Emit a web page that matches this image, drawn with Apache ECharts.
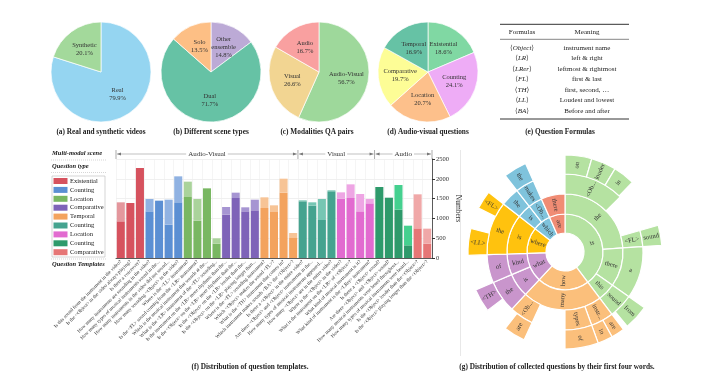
<!DOCTYPE html>
<html><head><meta charset="utf-8">
<script src="https://cdn.jsdelivr.net/npm/echarts@6/dist/echarts.min.js"></script>
<style>html,body{margin:0;padding:0;background:#fff}#c{width:720px;height:374px}</style>
</head><body><div id="c"></div>
<script>
const SERIF = "'Liberation Serif','Times New Roman',serif";

// ---------- pies ----------
const pieANames = ['Real', 'Synthetic'];
const pieAValues = [79.9, 20.1];
const pieBNames = ['Other\nensemble', 'Dual', 'Solo'];
const pieBValues = [14.8, 71.7, 13.5];
const pieCNames = ['Audio-Visual', 'Visual', 'Audio'];
const pieCValues = [56.7, 26.6, 16.7];
const pieDNames = ['Existential', 'Counting', 'Location', 'Comparative', 'Temporal'];
const pieDValues = [18.6, 24.1, 20.7, 19.7, 16.9];

// ---------- table ----------
const formulaNames = ['Object', 'LR', 'LRer', 'FL', 'TH', 'LL', 'BA'];
const formulaMeanings = ['instrument name', 'left & right', 'leftmost & rightmost', 'first & last', 'first, second, \u2026', 'Loudest and lowest', 'Before and after'];

// ---------- bar chart ----------
const sceneNames = ['Audio-Visual', 'Visual', 'Audio'];
const sceneTemplateCounts = [19, 8, 6];
const questionTypes = ['Existential', 'Counting', 'Location', 'Comparative', 'Temporal', 'Counting', 'Location', 'Counting', 'Comparative'];
const templateType = [0,0,0, 1,1,1,1, 2,2,2,2, 3,3,3,3, 4,4,4,4, 5,5,5,5, 6,6,6,6, 7,7,7,7, 8,8];
const templateLabels = [
'Is this sound from the instrument in the video?',
'Is the <Object> in the video always playing?',
'Is there a voiceover?',
'How many instruments are sounding in the video?',
'How many types of musical instruments sound in the...',
'How many instruments in the video did not sound...',
'How many sounding <Object> in the video?',
'Where is the <LL> instrument?',
'Is the <FL> sound coming from the <LR> instrument?',
'Which is the musical instrument that sounds at the...',
'What is the <LR> instrument of the <FL> sounding...',
'Is the instrument on the <LR> more rhythmic than the...',
'Is the <Object> on the <LR> more rhythmic than the...',
'Is the <Object> on the <LR> louder than the...',
'Is the <Object> on the <LR> playing longer than...',
'Where is the <FL> sounding instrument?',
'Which <Object> makes the sound <FL>?',
'What is the <TH> instrument that comes in?',
'Which instrument makes sounds <BA> the <Object>?',
'Is there a <Object> in the entire video?',
'Are there <Object> and <Object> instruments in the...',
'How many types of musical instruments appeared...',
'How many <Object> are in the entire video?',
'Where is the <Object> in the video?',
'What is the instrument on the <LR> of <Object>?',
'What kind of musical instrument is it?',
'What kind of instrument is the <LRer> instrument?',
'Is there a <Object> sound?',
'Are there <Object> and <Object> sound?',
'How many musical instruments were heard throughout...',
'How many types of musical instruments were heard...',
'Is the <Object> louder than the <Object>?',
'Is the <Object> playing longer than the <Object>?'
];
const solidCounts = [926,1389,2273, 1178,1448,842,1406, 1540,943,1759,362, 1094,1515,1178,1204, 1263,1162,1650,505, 1431,1322,960,1684, 1498,1515,1178,1380, 1793,1523,1220,320, 749,362];
const totalCounts = [1406,1389,2273, 1490,1448,1473,2062, 1928,1490,1759,497, 1288,1650,1280,1473, 1532,1330,2003,631, 1456,1406,1490,1709, 1658,1860,1616,1490, 1793,1523,1843,816, 1608,741];
const yMin = 0, yMax = 2500, yStep = 500;

// ---------- sunburst: [word, share(deg), children]; null = empty gap ----------
const sunburstTree = [
  ['is', 143, [
    ['the', 86, [
      ['<Ob...', 45, [['on', 16], ['louder', 15], ['in', 13]]],
      [null, 29],
      ['<FL>', 12, [['sound', 12]]]
    ]],
    ['there', 39, [['a', 39]]],
    ['this', 18, [['sound', 18, [['from', 15]]]]]
  ]],
  ['how', 80, [['many', 80, [
    ['instr...', 17, [['are', 8], ['in', 9]]],
    ['types', 20, [['of', 20]]],
    [null, 25],
    ['<Ob...', 18, [['are', 13]]]
  ]]]],
  ['what', 45, [
    ['is', 24, [['the', 24, [[null, 10], ['<TH>', 14]]]]],
    ['kind', 21, [['of', 21]]]
  ]],
  ['where', 40, [['is', 40, [['the', 40, [['<LL>', 16], [null, 13], ['<FL>', 11]]]]]]],
  ['which', 28, [
    ['is', 14, [['the', 14]]],
    ['<Ob...', 14, [['makes', 14, [['the', 14]]]]]
  ]],
  ['are', 24, [['there', 24]]]
];

// ---------- styles ----------
const pieAColors = ['#95d5f1', '#a3d99b'];
const pieBColors = ['#bcaad6', '#66c2a5', '#fdbf85'];
const pieCColors = ['#9ed89b', '#f2d592', '#f9a0a0'];
const pieDColors = ['#80d8a3', '#eeacf6', '#fdc08b', '#fdfd96', '#66c2a5'];
const typeDark = ['#d6525e', '#5b8fd3', '#79b762', '#7e63b8', '#f3a35e', '#45a38f', '#e26bd0', '#2e9a6b', '#e67676'];
const typeLight = ['#e4979d', '#90b2e2', '#aad39b', '#a695d2', '#f7c496', '#76c6b3', '#eea5e4', '#45d08f', '#f0a8a8'];
const sunColors = {is: '#b5e2a1', how: '#fbbf7b', what: '#c995cc', where: '#ffc20e', which: '#7fc3dc', are: '#f08c74'};

function pieSeries(names, values, colors, cx) {
  return {
    type: 'pie', center: [cx, 72], radius: [0, 50], startAngle: 90, clockwise: true, silent: true,
    itemStyle: {borderColor: '#fff', borderWidth: 0.7},
    label: {position: 'inside', fontFamily: SERIF, fontSize: 6.5, lineHeight: 8, color: '#333',
      formatter: p => p.name + '\n' + p.value.toFixed(1) + '%'},
    labelLine: {show: false},
    data: names.map((n, i) => ({name: n, value: values[i], itemStyle: {color: colors[i]}}))
  };
}

function buildNode(n, color) {
  const [name, value, kids] = n;
  if (name === null) {
    return {name: '', value, itemStyle: {color: 'rgba(0,0,0,0)', borderWidth: 0}, label: {show: false}};
  }
  const node = {name, value, itemStyle: {color}};
  if (kids) node.children = kids.map(k => buildNode(k, color));
  return node;
}
const sunData = sunburstTree.map(n => buildNode(n, sunColors[n[0]]));

const chart = echarts.init(document.getElementById('c'), null, {renderer: 'canvas'});
chart.setOption({
  animation: false,
  backgroundColor: '#fff',
  grid: {left: 116, right: 288, top: 159, bottom: 116},
  xAxis: {
    type: 'category', data: templateLabels,
    axisLine: {lineStyle: {color: '#333', width: 0.8}},
    axisTick: {lineStyle: {color: '#333'}, length: 3},
    axisLabel: {interval: 0, rotate: 45, fontSize: 5, fontFamily: SERIF, color: '#333', margin: 3},
    splitLine: {show: true, lineStyle: {color: '#eeeeee', width: 0.6}}
  },
  yAxis: {
    type: 'value', position: 'right', min: yMin, max: yMax, interval: yStep,
    axisLine: {show: true, lineStyle: {color: '#333', width: 0.8}},
    axisTick: {show: true, length: 3, lineStyle: {color: '#333'}},
    axisLabel: {fontSize: 6.5, fontFamily: SERIF, color: '#333', margin: 4, formatter: v => String(v)},
    splitLine: {lineStyle: {color: '#e6e6e6', width: 0.6}},
    name: 'Numbers', nameLocation: 'middle', nameRotate: -90, nameGap: 22,
    nameTextStyle: {fontSize: 7.5, fontFamily: SERIF, color: '#333'}
  },
  series: [
    pieSeries(pieANames, pieAValues, pieAColors, 101),
    pieSeries(pieBNames, pieBValues, pieBColors, 211),
    pieSeries(pieCNames, pieCValues, pieCColors, 319),
    pieSeries(pieDNames, pieDValues, pieDColors, 428),
    {
      type: 'bar', stack: 'q', barCategoryGap: '16%', silent: true,
      data: solidCounts.map((v, i) => ({value: v, itemStyle: {color: typeDark[templateType[i]]}}))
    },
    {
      type: 'bar', stack: 'q', silent: true,
      data: totalCounts.map((t, i) => ({value: t - solidCounts[i], itemStyle: {color: typeLight[templateType[i]]}}))
    },
    {
      type: 'sunburst', center: [565, 252], radius: [19, 97], sort: null, startAngle: 90, clockwise: true,
      nodeClick: false, silent: true,
      itemStyle: {borderColor: '#fff', borderWidth: 1.2},
      label: {rotate: 'radial', fontSize: 6.5, fontFamily: SERIF, color: '#333'},
      levels: [{}, {r0: 19, r: 38}, {r0: 38, r: 58}, {r0: 58, r: 78}, {r0: 78, r: 97}],
      data: sunData
    }
  ]
});

// ---------- graphic (captions, table, legend, scene brackets) ----------
const G = [];
function txt(x, y, text, font, opts) {
  G.push(Object.assign({type: 'text', x, y, silent: true,
    style: Object.assign({text, font, fill: '#222', align: 'center', verticalAlign: 'middle'}, (opts || {}))}));
}
function line(x1, y1, x2, y2, stroke, w, dash) {
  G.push({type: 'line', silent: true, shape: {x1, y1, x2, y2},
    style: {stroke, lineWidth: w, lineDash: dash || null}});
}
const capFont = 'bold 7.3px ' + SERIF;
txt(101, 132, '(a) Real and synthetic videos', capFont);
txt(211, 132, '(b) Different scene types', capFont);
txt(317, 132, '(c) Modalities QA pairs', capFont);
txt(428, 132, '(d) Audio-visual questions', capFont);
txt(560, 132, '(e) Question Formulas', capFont);
txt(250, 367, '(f) Distribution of question templates.', capFont);
txt(557, 367, '(g) Distribution of collected questions by their first four words.', capFont);

// table
line(500, 24.3, 629, 24.3, '#333', 1);
line(500, 39.3, 629, 39.3, '#333', 0.6);
line(500, 119, 629, 119, '#333', 1);
const tFont = '7px ' + SERIF;
txt(522, 32, 'Formulas', tFont);
txt(587, 32, 'Meaning', tFont);
formulaNames.forEach((f, i) => {
  const y = 48 + i * 10.5;
  G.push({type: 'text', x: 522, y, silent: true, style: {
    text: '{p|\u27e8}{i|' + f + '}{p|\u27e9}', align: 'center', verticalAlign: 'middle', fill: '#222',
    rich: {p: {fontSize: 7, fontFamily: "'DejaVu Serif'," + SERIF, fill: '#444', fontWeight: 'lighter'},
           i: {fontSize: 7, fontFamily: SERIF, fontStyle: 'italic', fill: '#222'}}}});
  txt(587, y, formulaMeanings[i], tFont);
});

// bar chart side labels + legend
const sideFont = 'italic bold 6.5px ' + SERIF;
txt(52, 153, 'Multi-modal scene', sideFont, {align: 'left'});
txt(52, 166, 'Question type', sideFont, {align: 'left'});
txt(52, 264, 'Question Templates', sideFont, {align: 'left'});
line(51, 160, 106, 160, '#bbb', 0.6, [1, 1]);
line(51, 172.5, 106, 172.5, '#bbb', 0.6, [1, 1]);
line(51, 259, 106, 259, '#bbb', 0.6, [1, 1]);
G.push({type: 'rect', silent: true, shape: {x: 52, y: 176, width: 53, height: 81},
  style: {fill: '#fff', stroke: '#bbb', lineWidth: 0.6}});
questionTypes.forEach((t, i) => {
  const y = 181 + i * 8.9;
  G.push({type: 'rect', silent: true, shape: {x: 53.5, y: y - 3, width: 14, height: 6}, style: {fill: typeDark[i]}});
  txt(70, y, t, '6.5px ' + SERIF, {align: 'left'});
});

// vertical separator
line(460.5, 150, 460.5, 356, '#e2e2e2', 0.8);

// scene brackets from axis pixel positions
const xAt = i => chart.convertToPixel({xAxisIndex: 0}, i);
const band = xAt(1) - xAt(0);
let start = 0;
const by = 154;
sceneNames.forEach((s, k) => {
  const end = start + sceneTemplateCounts[k];
  const L = xAt(start) - band / 2, R = xAt(end - 1) + band / 2;
  line(L + 1, by, R - 1, by, '#999', 0.6);
  G.push({type: 'polygon', silent: true, shape: {points: [[L + 1, by], [L + 5, by - 1.4], [L + 5, by + 1.4]]}, style: {fill: '#777'}});
  G.push({type: 'polygon', silent: true, shape: {points: [[R - 1, by], [R - 5, by - 1.4], [R - 5, by + 1.4]]}, style: {fill: '#777'}});
  if (k === 0) line(L, by - 4, L, by + 5, '#888', 0.7);
  line(R, by - 4, R, by + 5, '#888', 0.7);
  txt((L + R) / 2, by, s, '7px ' + SERIF, {backgroundColor: '#fff', padding: [0, 2], fill: '#333'});
  start = end;
});

chart.setOption({graphic: {elements: G}});
</script></body></html>
